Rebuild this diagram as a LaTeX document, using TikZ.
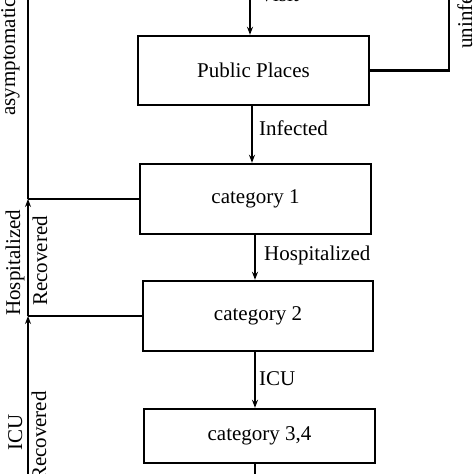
\documentclass[tikz,border=0pt]{standalone}
\usepackage{fontspec}
\setmainfont{Liberation Serif}
\usetikzlibrary{arrows.meta}
\begin{document}
\begin{tikzpicture}[x=1pt,y=-1pt,
  font=\fontsize{21}{25}\selectfont,
  line width=2.4pt,
  box/.style={draw, rectangle, inner sep=0pt, minimum width=231pt},
  arr/.style={-{Stealth[length=8pt,width=6pt]}},
  lab/.style={inner sep=0pt, anchor=base west},
  rlab/.style={inner sep=0pt, rotate=90, anchor=base west}]
\useasboundingbox (0,0) rectangle (474,474);
\fill[white] (0,0) rectangle (474,474);
\clip (0,0) rectangle (474,474);
% boxes
\node[box, minimum height=69pt] (pp) at (253.5,70.5) {Public Places};
\node[box, minimum height=70pt] (c1) at (255.5,199) {category 1};
\node[box, minimum width=230pt, minimum height=70pt] (c2) at (258,316) {category 2};
\node[box, minimum height=54pt] (c34) at (259.5,436) {category 3,4};
% helper coordinates
\coordinate (in) at (250,-10);
\coordinate (out) at (255,490);
\coordinate (rt) at (449,70.5);
\coordinate (rtop) at (449,-10);
\coordinate (j1) at (28,199);
\coordinate (j2) at (28,316);
\coordinate (ltop) at (28,-10);
\coordinate (lbot) at (28,490);
% main column
\draw[arr] (in) -- (in |- pp.north);
\draw[arr] (pp.south -| 252,0) -- (c1.north -| 252,0);
\draw[arr] (c1.south -| 255,0) -- (c2.north -| 255,0);
\draw[arr] (c2.south -| 255,0) -- (c34.north -| 255,0);
\draw (c34.south -| 255,0) -- (out);
% right side
\draw (pp.east) -- (rt) -- (rtop);
% left side
\draw (c1.west) -- (j1);
\draw (c2.west) -- (j2);
\draw[arr] (lbot) -- (j2);
\draw[arr] (j2) -- (j1);
\draw (j1) -- (ltop);
% labels
\node[lab] (lvisit) at (258,1.5) {Visit};
\node[lab] (linf) at (258,135) {Infected};
\node[lab] (lhosp) at (263,260) {Hospitalized};
\node[lab] (licu) at (258,385) {ICU};
\node[rlab] (lasym) at (15,117) {asymptomatic};
\node[rlab] (lunin) at (472,50) {uninfected};
\node[rlab] (lhosp2) at (20,317) {Hospitalized};
\node[rlab] (lrec1) at (47,307) {Recovered};
\node[rlab] (licu2) at (22,452) {ICU};
\node[inner sep=0pt, rotate=90, anchor=base east] (lrec2) at (46,390) {Recovered};
\end{tikzpicture}
\end{document}
